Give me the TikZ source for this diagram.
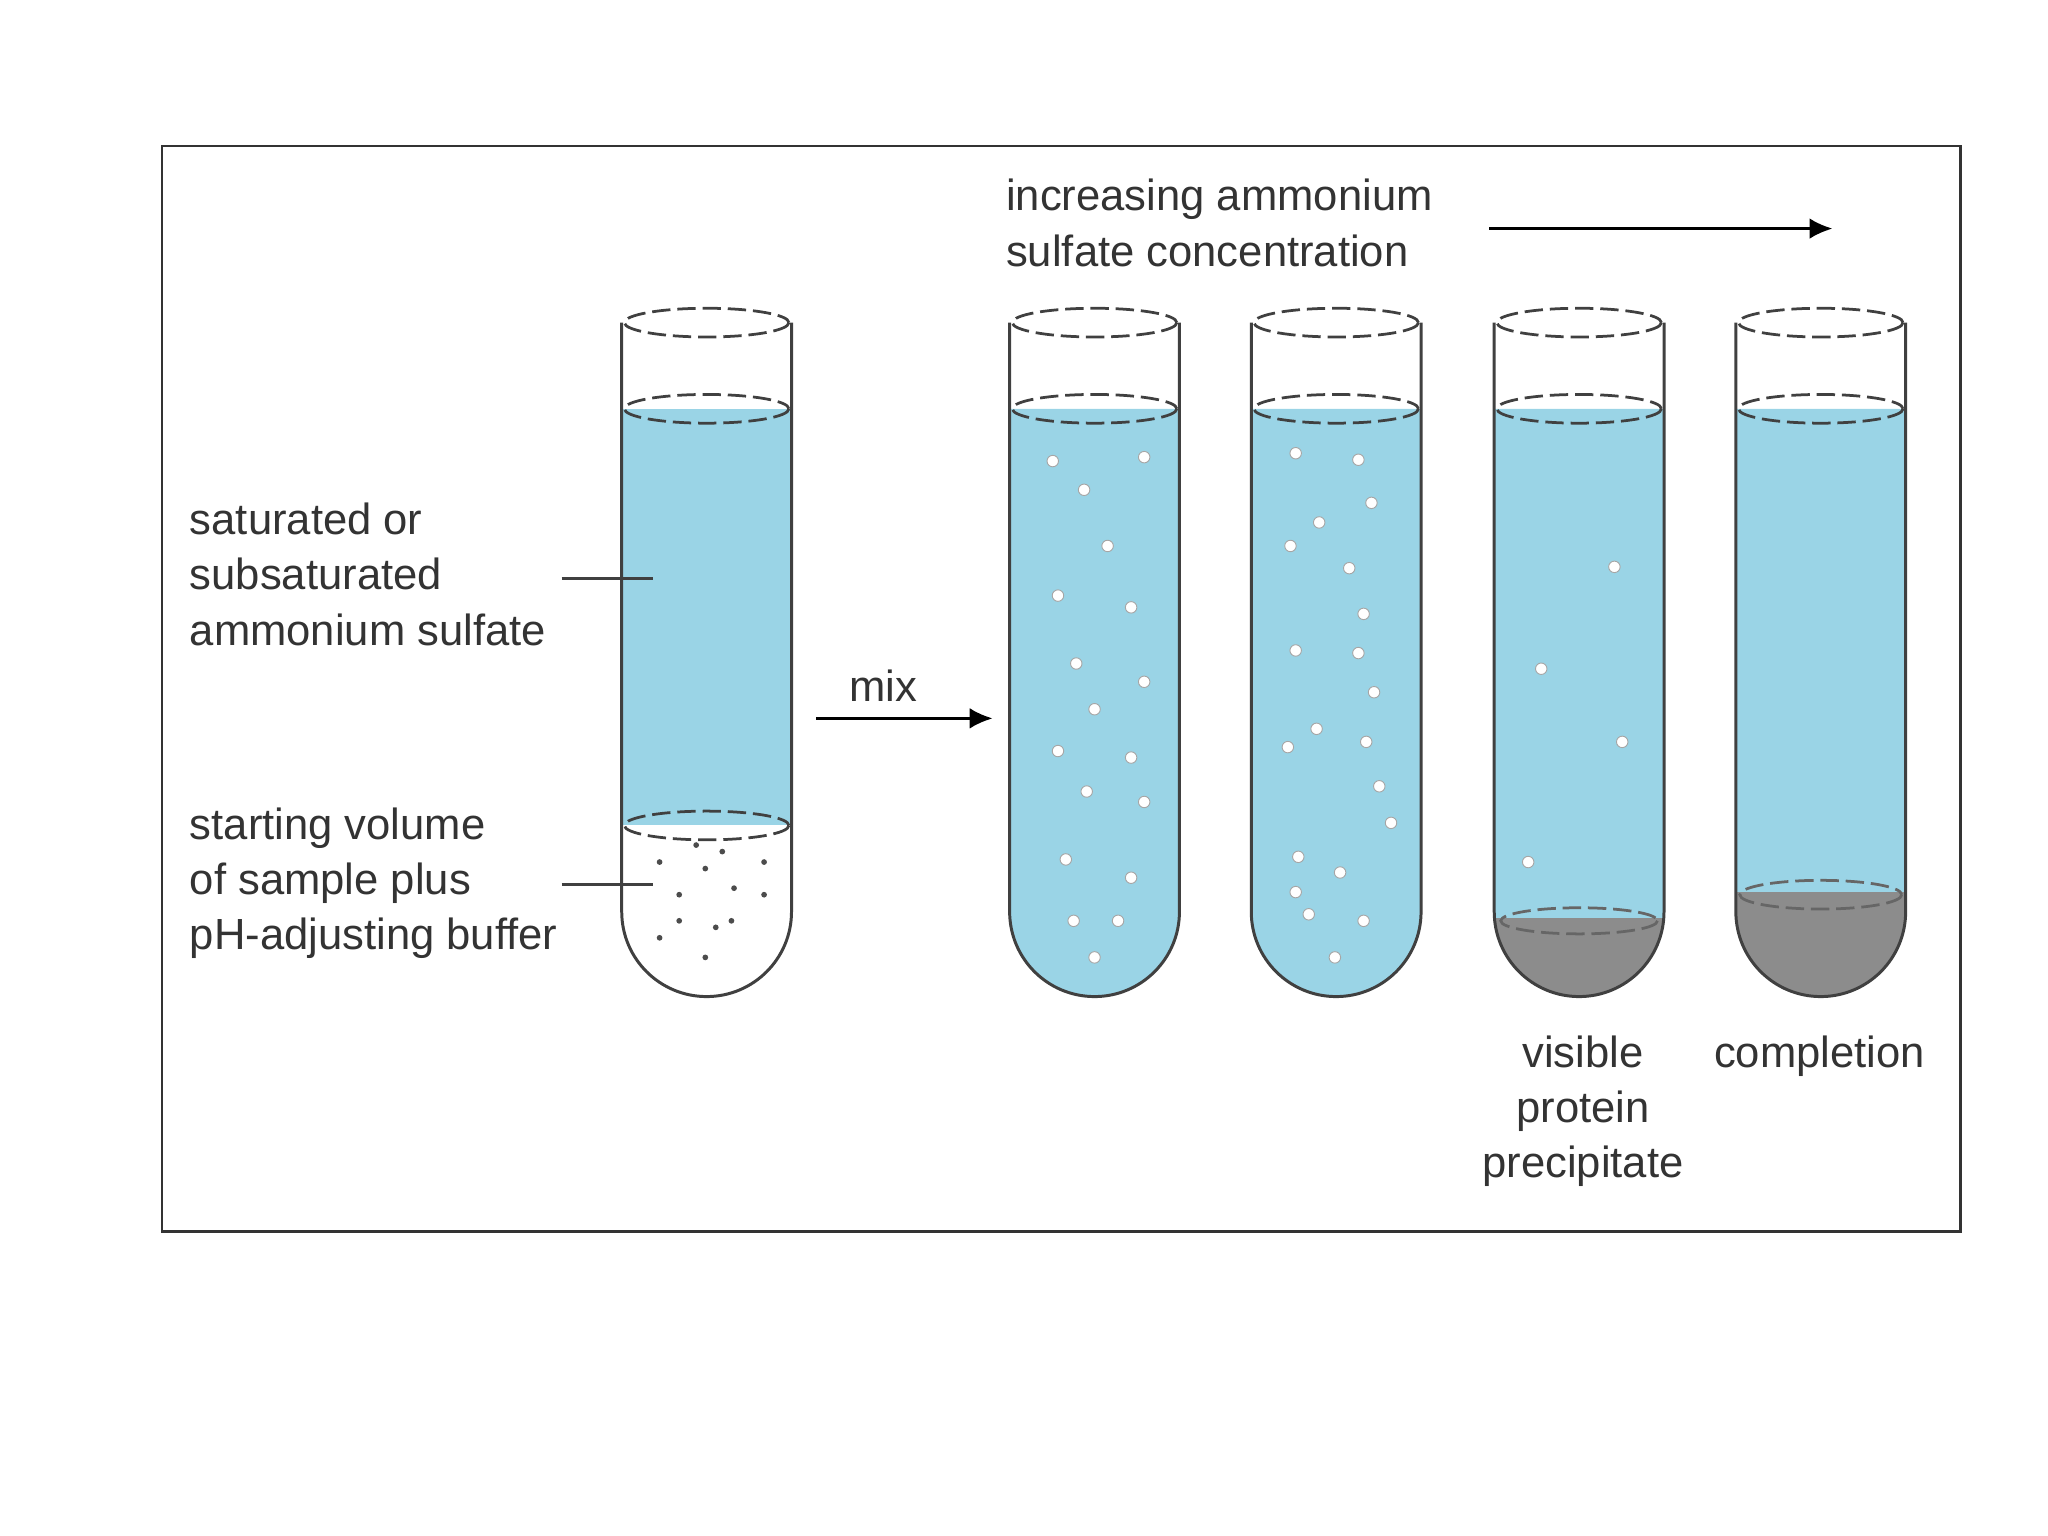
\documentclass[tikz,border=0pt]{standalone}
\usepackage{fontspec}
\setmainfont{Liberation Sans}
\usetikzlibrary{arrows.meta}
\begin{document}
\begin{tikzpicture}[x=0.02cm,y=-0.02cm,
  lbl/.style={font=\fontsize{19}{24}\selectfont,text=black!80,inner sep=0pt},
  tube/.style={draw=black!75,line width=1.3pt},
  rim/.style={draw=black!75,line width=1.2pt,dash pattern=on 8pt off 3pt},
  bub/.style={circle,draw=black!35,fill=white,inner sep=0pt,minimum size=5pt},
  dot/.style={circle,fill=black!70,inner sep=0pt,minimum size=2.5pt},
  arr/.style={line width=1.3pt,-{Latex[length=10pt,width=9pt]}}]
\useasboundingbox (0,0) rectangle (1568,1176);
\definecolor{liq}{RGB}{154,212,230}
\definecolor{ppt}{RGB}{140,140,140}
\node[draw=black!80,line width=1pt,minimum width=1377*0.02cm,minimum height=831*0.02cm,anchor=north west,inner sep=0pt] (frame) at (123,111) {};
\newcommand\tubeout[1]{(#1-65,247) -- (#1-65,698) arc[start angle=180,end angle=0,radius=65] -- (#1+65,247)}
\newcommand\inside[2]{(#1-65,#2) -- (#1-65,698) arc[start angle=180,end angle=0,radius=65] -- (#1+65,#2) -- cycle}
% tube 1
\fill[liq] (476,313) rectangle (606,632);
\draw[tube] \tubeout{541};
\draw[rim] (541,247) ellipse[x radius=63,y radius=11];
\draw[rim] (541,313) ellipse[x radius=63,y radius=11];
\draw[rim] (541,632) ellipse[x radius=63,y radius=11];
\foreach \p in {(533,647),(553,652),(505,660),(540,665),(585,660),(520,685),(562,680),(585,685),(520,705),(548,710),(505,718),(560,705),(540,733)} \node[dot] at \p {};
% tubes 2-5
\foreach \c in {838,1023,1209,1394}{
  \fill[liq] \inside{\c}{313};
}
\begin{scope}
\clip \inside{1209}{313};
\fill[ppt] (1130,703) rectangle (1290,780);
\end{scope}
\begin{scope}
\clip \inside{1394}{313};
\fill[ppt] (1310,683) rectangle (1470,780);
\end{scope}
\draw[rim,draw=black!60] (1209,705) ellipse[x radius=60,y radius=10];
\draw[rim,draw=black!60] (1394,685) ellipse[x radius=62,y radius=11];
\foreach \c in {838,1023,1209,1394}{
  \draw[tube] \tubeout{\c};
  \draw[rim] (\c,247) ellipse[x radius=63,y radius=11];
  \draw[rim] (\c,313) ellipse[x radius=63,y radius=11];
}
\foreach \p in {(806,353),(876,350),(830,375),(848,418),(810,456),(866,465),(824,508),(876,522),(838,543),(810,575),(866,580),(832,606),(876,614),(816,658),(866,672),(822,705),(856,705),(838,733)} \node[bub] at \p {};
\foreach \p in {(992,347),(1040,352),(1050,385),(1010,400),(988,418),(1033,435),(1044,470),(992,498),(1040,500),(1052,530),(1008,558),(986,572),(1046,568),(1056,602),(1065,630),(994,656),(1026,668),(992,683),(1002,700),(1044,705),(1022,733)} \node[bub] at \p {};
\foreach \p in {(1236,434),(1180,512),(1242,568),(1170,660)} \node[bub] at \p {};
% labels
\node[lbl,align=left,anchor=north west] (l1) at (145,385) {saturated or\\subsaturated\\ammonium sulfate};
\node[lbl,align=left,anchor=north west] (l2) at (145,618) {starting volume\\of sample plus\\pH-adjusting buffer};
\coordinate (a1) at (430,443); \coordinate (b1) at (500,443);
\coordinate (a2) at (430,677); \coordinate (b2) at (500,677);
\draw[line width=1.2pt,black!75] (a1) -- (b1);
\draw[line width=1.2pt,black!75] (a2) -- (b2);
\node[lbl] (mix) at (676,525) {mix};
\coordinate (m1) at (625,550); \coordinate (m2) at (760,550);
\draw[arr] (m1) -- (m2);
\node[lbl,align=left,anchor=north west] (inc) at (770,137) {increasing ammonium\\sulfate concentration};
\coordinate (t1) at (1140,175); \coordinate (t2) at (1403,175);
\draw[arr] (t1) -- (t2);
\node[lbl,align=center,anchor=north] (vis) at (1212,793) {visible\\protein\\precipitate};
\node[lbl,anchor=north] (comp) at (1393,793) {completion};
\end{tikzpicture}
\end{document}
